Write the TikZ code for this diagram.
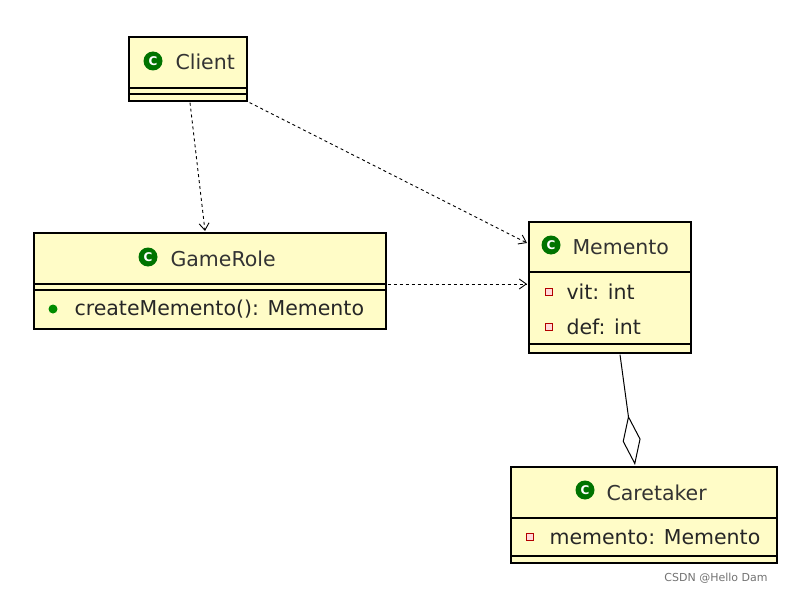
\documentclass[tikz,border=0pt]{standalone}
\usepackage{fontspec}
\setmainfont{DejaVu Sans}
\usetikzlibrary{positioning, arrows.meta, calc}

\begin{document}
\begin{tikzpicture}
        [
            x=1pt, y=-1pt,
            box/.style={draw, line width=1.6pt, fill=yellow!22, inner sep=0pt, anchor=north west},
            sep/.style={line width=1.6pt},
            cls/.style={circle, fill=green!45!black, minimum width=19pt, inner sep=0pt,
                        text=white, font=\bfseries\fontsize{12}{12}\selectfont},
            title/.style={font=\fontsize{20.5}{24}\selectfont, text=black!80},
            member/.style={font=\fontsize{20.5}{24}\selectfont, text=black!85, anchor=west},
            priv/.style={draw=red!70!black, fill=red!15, minimum size=7pt, inner sep=0pt},
            pub/.style={circle, fill=green!55!black, minimum size=9pt, inner sep=0pt},
            dep/.style={dashed, line width=0.9pt, -{Straight Barb[length=7pt, width=10pt]}},
            agg/.style={line width=1pt, {Diamond[open, length=50pt, width=18pt]}-}
        ]
        \useasboundingbox (0,0) rectangle (804,594);
        % Client
        \node (client) [box, minimum width=118pt, minimum height=64pt] at (128,36) {};
        \draw [sep] (128,88) -- (246,88) (128,94) -- (246,94);
        \node [cls] at (153,61) {C};
        \node [title, anchor=west] at (172,62) {Client};
        % GameRole
        \node (role) [box, minimum width=352pt, minimum height=96pt] at (33,232) {};
        \draw [sep] (33,284) -- (385,284) (33,290) -- (385,290);
        \node [cls] at (148,257) {C};
        \node [title, anchor=west] at (167,259) {GameRole};
        \node [pub] at (53,309) {};
        \node [member] at (71,309) {createMemento(): Memento};
        % Memento
        \node (memento) [box, minimum width=162pt, minimum height=131pt] at (528,221) {};
        \draw [sep] (528,272) -- (690,272) (528,344) -- (690,344);
        \node [cls] at (551,245) {C};
        \node [title, anchor=west] at (569,247) {Memento};
        \node [priv] at (549,292) {};
        \node [member] at (563,292) {vit: int};
        \node [priv] at (549,327) {};
        \node [member] at (563,327) {def: int};
        % Caretaker
        \node (care) [box, minimum width=266pt, minimum height=96pt] at (510,466) {};
        \draw [sep] (510,518) -- (776,518) (510,556) -- (776,556);
        \node [cls] at (585,490) {C};
        \node [title, anchor=west] at (603,493) {Caretaker};
        \node [priv] at (530,537) {};
        \node [member] at (546,537) {memento: Memento};
        % relations
        \draw [dep] ($(client.south west)+(62,1)$) -- ($(role.north west)+(172,-1)$);
        \draw [dep] ($(client.south east)+(2,1)$) -- ($(memento.north west)+(-1,22)$);
        \draw [dep] ($(role.east |- 0,284)+(1,0)$) -- ($(memento.west |- 0,284)+(-1,0)$);
        \draw [agg] ($(care.north west)+(125,-1)$) -- ($(memento.south west)+(92,1)$);
        \node [text=black!55, font=\fontsize{11}{14}\selectfont] at (716,578) {CSDN @Hello Dam};
\end{tikzpicture}
\end{document}
